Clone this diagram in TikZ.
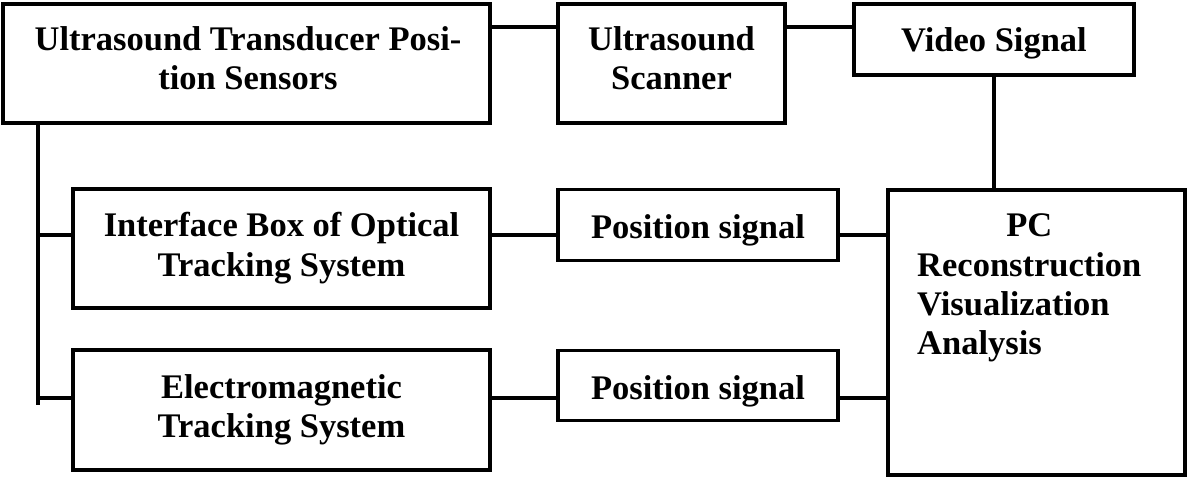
\documentclass[tikz,border=0pt]{standalone}
\usepackage{fontspec}
\setmainfont{Liberation Serif}
\begin{document}
\begin{tikzpicture}[x=1pt,y=-1pt,
  box/.style={draw, line width=3.2pt, inner sep=0pt},
  txt/.style={inner sep=0pt, anchor=base, font=\bfseries\fontsize{34.5}{39.3}\selectfont},
  conn/.style={line width=3.2pt}]
\useasboundingbox (0,0) rectangle (1187,478);
\fill[white] (0,0) rectangle (1187,478);
% boxes
\node[box, minimum width=487pt, minimum height=119pt] (us) at (246.5,63.5) {};
\node[box, minimum width=227pt, minimum height=119pt] (scan) at (671.5,63.5) {};
\node[box, minimum width=280pt, minimum height=71pt] (video) at (994,39.5) {};
\node[box, minimum width=417pt, minimum height=119pt] (iface) at (281.5,248.5) {};
\node[box, minimum width=280pt, minimum height=71pt] (pos1) at (698,225) {};
\node[box, minimum width=297pt, minimum height=285pt] (pc) at (1036.5,332.5) {};
\node[box, minimum width=417pt, minimum height=120pt] (em) at (281.5,410) {};
\node[box, minimum width=280pt, minimum height=70pt] (pos2) at (698,385.5) {};
% texts
\node[txt] (us-t) at (248,50.5) {\begin{tabular}[t]{@{}c@{}}Ultrasound Transducer Posi-\\tion Sensors\end{tabular}};
\node[txt] (scan-t) at (671.5,50.5) {\begin{tabular}[t]{@{}c@{}}Ultrasound\\Scanner\end{tabular}};
\node[txt] (video-t) at (994,52) {Video Signal};
\node[txt] (iface-t) at (281.5,237) {\begin{tabular}[t]{@{}c@{}}Interface Box of Optical\\Tracking System\end{tabular}};
\node[txt] (pos1-t) at (698,238.5) {Position signal};
\node[txt, anchor=base west] (pc-t) at (917,237) {\begin{tabular}[t]{@{}l@{}}\multicolumn{1}{@{}c@{}}{PC}\\Reconstruction\\Visualization\\Analysis\end{tabular}};
\node[txt] (em-t) at (281.5,398.5) {\begin{tabular}[t]{@{}c@{}}Electromagnetic\\Tracking System\end{tabular}};
\node[txt] (pos2-t) at (698,399.5) {Position signal};
% coordinates
\coordinate (r1) at (0,27);
\coordinate (sp2) at (38,235);
\coordinate (sp3) at (38,398);
\coordinate (spEnd) at (38,405);
% connectors
\draw[conn] (us.east |- r1) -- (scan.west |- r1);
\draw[conn] (scan.east |- r1) -- (video.west |- r1);
\draw[conn] (video.south) -- (pc.north -| video.south);
\draw[conn] (us.south -| sp2) -- (spEnd);
\draw[conn] (sp2) -- (iface.west |- sp2);
\draw[conn] (sp3) -- (em.west |- sp3);
\draw[conn] (iface.east |- sp2) -- (pos1.west |- sp2);
\draw[conn] (pos1.east |- sp2) -- (pc.west |- sp2);
\draw[conn] (em.east |- sp3) -- (pos2.west |- sp3);
\draw[conn] (pos2.east |- sp3) -- (pc.west |- sp3);
\end{tikzpicture}
\end{document}
